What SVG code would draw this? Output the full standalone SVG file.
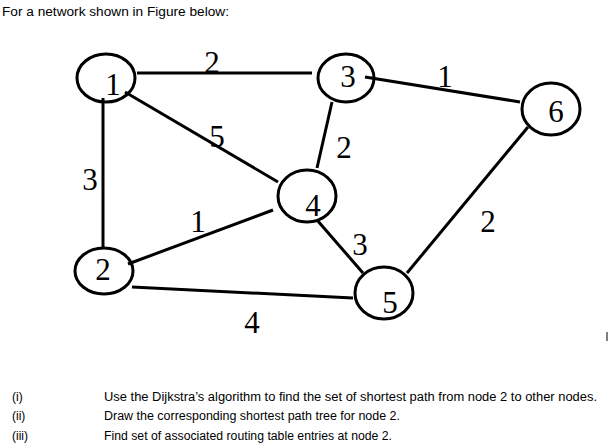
<svg xmlns="http://www.w3.org/2000/svg" width="611" height="447" viewBox="0 0 611 447">
<style>
.n{fill:none;stroke:#000;stroke-width:3}
.e line{stroke:#000;stroke-width:3}
.t{font-family:"Liberation Serif",serif;font-size:31px;text-anchor:middle;fill:#000}
.p{font-family:"Liberation Sans",sans-serif;font-size:12px;fill:#000}
</style>
<rect width="611" height="447" fill="#fff"/>
<text class="p" x="2" y="16" textLength="227" lengthAdjust="spacingAndGlyphs">For a network shown in Figure below:</text>
<g class="e" id="edges">
<line x1="137" y1="73" x2="312" y2="73"/>
<line x1="103" y1="98" x2="103" y2="248"/>
<line x1="125" y1="92" x2="278" y2="182"/>
<line x1="128" y1="264" x2="273" y2="210"/>
<line x1="132" y1="287" x2="353" y2="298"/>
<line x1="317" y1="220" x2="363" y2="273"/>
<line x1="332" y1="102" x2="317" y2="168"/>
<line x1="365" y1="77" x2="520" y2="102"/>
<line x1="407" y1="273" x2="528" y2="127"/>
<g class="t">
<text x="212" y="73">2</text>
<text x="90" y="190">3</text>
<text x="217" y="147">5</text>
<text x="198" y="232">1</text>
<text x="252" y="333">4</text>
<text x="360" y="255">3</text>
<text x="344" y="158">2</text>
<text x="445" y="87">1</text>
<text x="488" y="232">2</text>
</g>
</g>
<g id="n1"><ellipse class="n" cx="106" cy="78" rx="29" ry="24"/><text class="t" x="113" y="95">1</text></g>
<g id="n3"><ellipse class="n" cx="346" cy="78" rx="28" ry="24"/><text class="t" x="348" y="87">3</text></g>
<g id="n4"><ellipse class="n" cx="307" cy="196" rx="29" ry="26"/><text class="t" x="313" y="216">4</text></g>
<g id="n2"><ellipse class="n" cx="104" cy="271" rx="29" ry="23"/><text class="t" x="103" y="280">2</text></g>
<g id="n5"><ellipse class="n" cx="384" cy="293" rx="29" ry="26"/><text class="t" x="390" y="313">5</text></g>
<g id="n6"><ellipse class="n" cx="551" cy="109" rx="29" ry="26"/><text class="t" x="556" y="122">6</text></g>
<line x1="607" y1="332" x2="607" y2="341" stroke="#000" stroke-width="1"/>
<text class="p" x="12" y="401">(i)</text>
<text class="p" x="12" y="420">(ii)</text>
<text class="p" x="12" y="440">(iii)</text>
<text class="p" x="104" y="401" textLength="493" lengthAdjust="spacingAndGlyphs">Use the Dijkstra’s algorithm to find the set of shortest path from node 2 to other nodes.</text>
<text class="p" x="104" y="420" textLength="296" lengthAdjust="spacingAndGlyphs">Draw the corresponding shortest path tree for node 2.</text>
<text class="p" x="104" y="440" textLength="288" lengthAdjust="spacingAndGlyphs">Find set of associated routing table entries at node 2.</text>
</svg>
